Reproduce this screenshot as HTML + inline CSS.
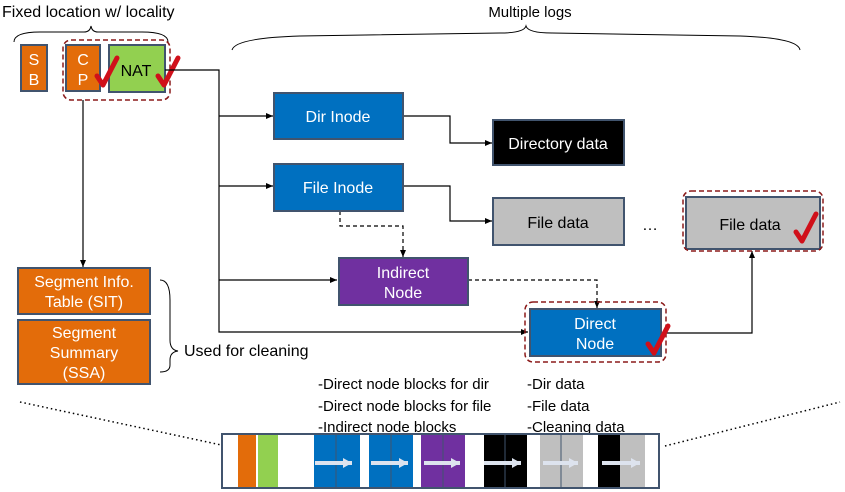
<!DOCTYPE html>
<html><head><style>body{margin:0;background:#fff}svg{display:block;font-family:"Liberation Sans",sans-serif}</style></head><body>
<svg width="845" height="492" viewBox="0 0 845 492" xmlns="http://www.w3.org/2000/svg">
<defs>
<marker id="a" markerWidth="8" markerHeight="8" refX="7" refY="4" orient="auto" markerUnits="userSpaceOnUse"><path d="M0,1 L7,4 L0,7z" fill="#000"/></marker>
<marker id="w" markerWidth="10" markerHeight="10" refX="9" refY="5" orient="auto" markerUnits="userSpaceOnUse"><path d="M0,0 L9,5 L0,10z" fill="#dde3ee"/></marker>
<g id="ck"><path d="M0,10 L6,19 L20,-8" fill="none" stroke="#d0101a" stroke-width="5" stroke-linecap="round" stroke-linejoin="round"/></g>
</defs>
<text x="2" y="17" font-size="16">Fixed location w/ locality</text>
<path d="M14,42 Q14,32 40,32 L84,32 Q90,32 91,26 Q92,32 98,32 L142,32 Q168,32 168,42" fill="none" stroke="#000" stroke-width="1"/>
<text x="530" y="17" font-size="15" text-anchor="middle">Multiple logs</text>
<path d="M232,50 Q235,38 300,36 L500,33 Q524,33 526,26 Q528,33 552,33 L740,36 Q798,38 800,50" fill="none" stroke="#000" stroke-width="1"/>
<g stroke="#41546e" stroke-width="2">
<rect x="21" y="45" width="26" height="46" fill="#e36c0a"/>
<rect x="66" y="45" width="34" height="46" fill="#e36c0a"/>
<rect x="109" y="45" width="56" height="47" fill="#92d050"/>
</g>
<g fill="#fff" font-size="16" text-anchor="middle"><text x="34" y="65">S</text><text x="34" y="85">B</text><text x="83" y="65">C</text><text x="83" y="85">P</text></g>
<text x="136" y="76" font-size="16" text-anchor="middle">NAT</text>
<rect x="63" y="40" width="107" height="60" rx="8" fill="none" stroke="#8b1a1a" stroke-width="1.5" stroke-dasharray="5,3"/>
<use href="#ck" x="97" y="66"/><use href="#ck" x="158" y="66"/>
<g stroke="#000" stroke-width="1.2" fill="none">
<path d="M165,70 H219 V332 H528" marker-end="url(#a)"/>
<path d="M219,116 H273" marker-end="url(#a)"/>
<path d="M219,186 H273" marker-end="url(#a)"/>
<path d="M219,280 H337" marker-end="url(#a)"/>
<path d="M403,116 H450 V143 H492" marker-end="url(#a)"/>
<path d="M403,186 H450 V221 H492" marker-end="url(#a)"/>
<path d="M661,333 H752 V251" marker-end="url(#a)"/>
<path d="M83,100 V267" marker-end="url(#a)"/>
<path d="M340,211 V226 H403 V257" stroke-dasharray="4,3" marker-end="url(#a)"/>
<path d="M468,280 H597 V308" stroke-dasharray="4,3" marker-end="url(#a)"/>
</g>
<g stroke="#41546e" stroke-width="2">
<rect x="274" y="93" width="129" height="46" fill="#0070c0"/>
<rect x="274" y="164" width="129" height="47" fill="#0070c0"/>
<rect x="493" y="120" width="131" height="45" fill="#000"/>
<rect x="493" y="198" width="131" height="47" fill="#bfbfbf"/>
<rect x="339" y="258" width="129" height="47" fill="#7030a0"/>
<rect x="530" y="309" width="131" height="47" fill="#0070c0"/>
<rect x="686" y="197" width="134" height="52" fill="#bfbfbf"/>
<rect x="18" y="268" width="132" height="46" fill="#e36c0a"/>
<rect x="18" y="320" width="132" height="64" fill="#e36c0a"/>
</g>
<rect x="525" y="302" width="141" height="60" rx="8" fill="none" stroke="#8b1a1a" stroke-width="1.5" stroke-dasharray="5,3"/>
<rect x="683" y="191" width="140" height="60" rx="8" fill="none" stroke="#8b1a1a" stroke-width="1.5" stroke-dasharray="5,3"/>
<g font-size="16" text-anchor="middle" fill="#fff">
<text x="338" y="122">Dir Inode</text>
<text x="338" y="193">File Inode</text>
<text x="558" y="149">Directory data</text>
<text x="403" y="278">Indirect</text><text x="403" y="298">Node</text>
<text x="595" y="329">Direct</text><text x="595" y="349">Node</text>
<text x="84" y="287">Segment Info.</text><text x="84" y="307">Table (SIT)</text>
<text x="84" y="338">Segment</text><text x="84" y="358">Summary</text><text x="84" y="378">(SSA)</text>
</g>
<g font-size="16" text-anchor="middle" fill="#000">
<text x="558" y="228">File data</text>
<text x="750" y="230">File data</text>
<text x="650" y="230">…</text>
</g>
<use href="#ck" x="796" y="222"/><use href="#ck" x="648" y="334"/>
<path d="M160,280 Q170,280 170,300 L170,340 Q170,350 178,351 Q170,352 170,360 L170,365 Q170,372 160,372" fill="none" stroke="#000" stroke-width="1"/>
<text x="184" y="356" font-size="16">Used for cleaning</text>
<g font-size="15"><text x="318" y="389">-Direct node blocks for dir</text><text x="318" y="411">-Direct node blocks for file</text><text x="318" y="432">-Indirect node blocks</text>
<text x="527" y="389">-Dir data</text><text x="527" y="411">-File data</text><text x="527" y="432">-Cleaning data</text></g>
<g stroke="#000" stroke-width="1.5" stroke-dasharray="1.5,3"><path d="M20,402 L226,446"/><path d="M665,446 L840,402"/></g>
<rect x="222" y="434" width="437" height="54" fill="#fff" stroke="#41546e" stroke-width="2"/>
<rect x="238" y="435" width="18" height="52" fill="#e36c0a"/>
<rect x="258" y="435" width="20" height="52" fill="#92d050"/>
<rect x="314" y="435" width="46" height="52" fill="#0070c0"/>
<rect x="369" y="435" width="44" height="52" fill="#0070c0"/>
<rect x="421" y="435" width="44" height="52" fill="#7030a0"/>
<rect x="484" y="435" width="43" height="52" fill="#000"/>
<rect x="540" y="435" width="43" height="52" fill="#bfbfbf"/>
<rect x="598" y="435" width="22" height="52" fill="#000"/>
<rect x="620" y="435" width="25" height="52" fill="#bfbfbf"/>
<g stroke="#41546e" stroke-width="1"><path d="M336,435V487M391,435V487M443,435V487M505,435V487M561,435V487"/></g>
<g stroke="#dde3ee" stroke-width="4" fill="none">
<path d="M315,463 H352" marker-end="url(#w)"/><path d="M371,463 H408" marker-end="url(#w)"/><path d="M424,463 H460" marker-end="url(#w)"/><path d="M484,463 H521" marker-end="url(#w)"/><path d="M543,463 H578" marker-end="url(#w)"/><path d="M602,463 H640" marker-end="url(#w)"/>
</g>
</svg>
</body></html>
